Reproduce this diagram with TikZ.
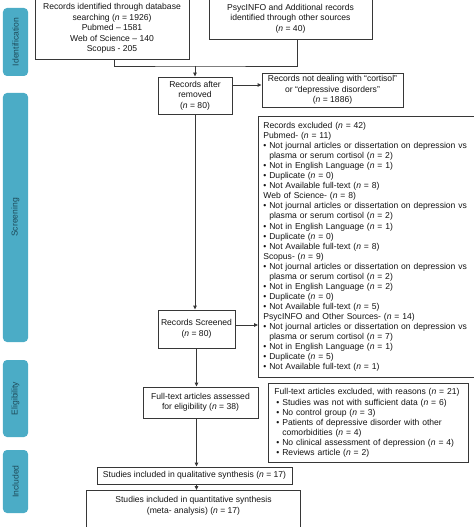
\documentclass[tikz,border=0pt]{standalone}
\usepackage{fontspec}
\setmainfont{Liberation Sans}
\usetikzlibrary{arrows.meta,calc}
\definecolor{barcol}{RGB}{75,172,198}
\definecolor{bartext}{RGB}{30,75,90}
\definecolor{lncol}{RGB}{55,55,55}
\definecolor{txcol}{RGB}{20,20,20}
\newcommand\myn{\textit{n}}
\newcommand\fsA{\fontsize{8.6}{10.6}\selectfont}
\newcommand\fsB{\fontsize{8.6}{10.1}\selectfont}
\newcommand\bul{\textbullet\ }
\newcommand\ind{\hphantom{\textbullet\ }}
\begin{document}
\begin{tikzpicture}[x=1bp,y=-1bp,
  box/.style={draw=lncol,line width=0.9bp,fill=white,inner sep=0pt,align=center,font=\fsA,text=txcol},
  lbox/.style={draw=lncol,line width=0.9bp,fill=white,inner ysep=0pt,align=left,font=\fsB,text=txcol,anchor=north west},
  stage/.style={fill=barcol,rounded corners=4bp,rotate=90,minimum height=25bp,inner sep=0pt,font=\fsA,text=bartext},
  conn/.style={draw=lncol,line width=0.9bp},
  arr/.style={conn,-{Triangle[length=4bp,width=3.5bp]}}]
\useasboundingbox (0,0) rectangle (474,527);
\clip (0,0) rectangle (474,527);

% stage bars
\node[stage,minimum width=68bp] (s1) at (15.5,42) {Identification};
\node[stage,minimum width=249bp] (s2) at (15.5,217.5) {Screening};
\node[stage,minimum width=77bp] (s3) at (15.5,398.5) {Eligibility};
\node[stage,minimum width=63bp] (s4) at (15.5,481.5) {Included};

% boxes
\node[box,minimum width=154bp,minimum height=61bp] (b1) at (112,28.5)
  {Records identified through database\\searching (\myn{} = 1926)\\Pubmed – 1581\\Web of Science – 140\\Scopus - 205};
\node[box,minimum width=163bp,minimum height=41bp] (b2) at (290.5,18.5)
  {PsycINFO and Additional records\\identified through other sources\\(\myn{} = 40)};
\node[box,minimum width=74bp,minimum height=37bp] (ra) at (195,95.5)
  {Records after\\removed\\(\myn{} = 80)};
\node[box,minimum width=141bp,minimum height=34bp] (nd) at (332.5,90)
  {Records not dealing with “cortisol”\\or “depressive disorders”\\(\myn{} = 1886)};
\node[lbox,inner xsep=5bp,text width=222bp,minimum height=261bp] (ex) at (258,116)
  {Records excluded (\myn{} = 42)\\
   Pubmed- (\myn{} = 11)\\
   \bul Not journal articles or dissertation on depression vs\\
   \ind plasma or serum cortisol (\myn{} = 2)\\
   \bul Not in English Language (\myn{} = 1)\\
   \bul Duplicate (\myn{} = 0)\\
   \bul Not Available full-text (\myn{} = 8)\\
   Web of Science- (\myn{} = 8)\\
   \bul Not journal articles or dissertation on depression vs\\
   \ind plasma or serum cortisol (\myn{} = 2)\\
   \bul Not in English Language (\myn{} = 1)\\
   \bul Duplicate (\myn{} = 0)\\
   \bul Not Available full-text (\myn{} = 8)\\
   Scopus- (\myn{} = 9)\\
   \bul Not journal articles or dissertation on depression vs\\
   \ind plasma or serum cortisol (\myn{} = 2)\\
   \bul Not in English Language (\myn{} = 2)\\
   \bul Duplicate (\myn{} = 0)\\
   \bul Not Available full-text (\myn{} = 5)\\
   PsycINFO and Other Sources- (\myn{} = 14)\\
   \bul Not journal articles or dissertation on depression vs\\
   \ind plasma or serum cortisol (\myn{} = 7)\\
   \bul Not in English Language (\myn{} = 1)\\
   \bul Duplicate (\myn{} = 5)\\
   \bul Not Available full-text (\myn{} = 1)};
\node[box,minimum width=77bp,minimum height=38bp] (rs) at (196.5,329)
  {Records Screened\\(\myn{} = 80)};
\node[box,minimum width=115bp,minimum height=31bp] (fa) at (200.5,402.5)
  {Full-text articles assessed\\for eligibility (\myn{} = 38)};
\node[lbox,inner xsep=6bp,text width=188bp,minimum height=79bp] (fe) at (268,383)
  {Full-text articles excluded, with reasons (\myn{} = 21)\\
   \hspace*{2bp}\bul Studies was not with sufficient data (\myn{} = 6)\\
   \hspace*{2bp}\bul No control group (\myn{} = 3)\\
   \hspace*{2bp}\bul Patients of depressive disorder with other\\
   \hspace*{2bp}\ind comorbidities (\myn{} = 4)\\
   \hspace*{2bp}\bul No clinical assessment of depression (\myn{} = 4)\\
   \hspace*{2bp}\bul Reviews article (\myn{} = 2)};
\node[box,minimum width=195bp,minimum height=17bp] (q1) at (194.5,475.5)
  {Studies included in qualitative synthesis (\myn{} = 17)};
\node[font=\fsA,text=txcol,align=center,anchor=north,inner xsep=0pt,inner ysep=6.5bp,minimum width=213bp] (q2) at (193.5,490)
  {Studies included in quantitative synthesis\\(meta- analysis) (\myn{} = 17)};
\draw[conn] (q2.north west) rectangle ($(q2.south east)+(0,30)$);

% connectors
\coordinate (j) at (195,66);
\draw[conn] ($(b1.south)+(2,0)$) |- (j) -| ($(b2.south)+(6.5,0)$);
\draw[arr] (j) -- (ra.north);
\draw[arr] ($(ra.east)+(0,-10.5)$) coordinate (r1) -- (r1 -| nd.west);
\draw[arr] (ra.south) -- (ra.south |- rs.north);
\draw[arr] ($(rs.east)+(0,-4)$) coordinate (r2) -- (r2 -| ex.west);
\draw[arr] (rs.south) -- (rs.south |- fa.north);
\draw[arr] (fa.south -| rs.south) -- (q1.north -| rs.south);
\draw[arr] (q1.south -| rs.south) -- (q2.north -| rs.south);
\end{tikzpicture}
\end{document}
